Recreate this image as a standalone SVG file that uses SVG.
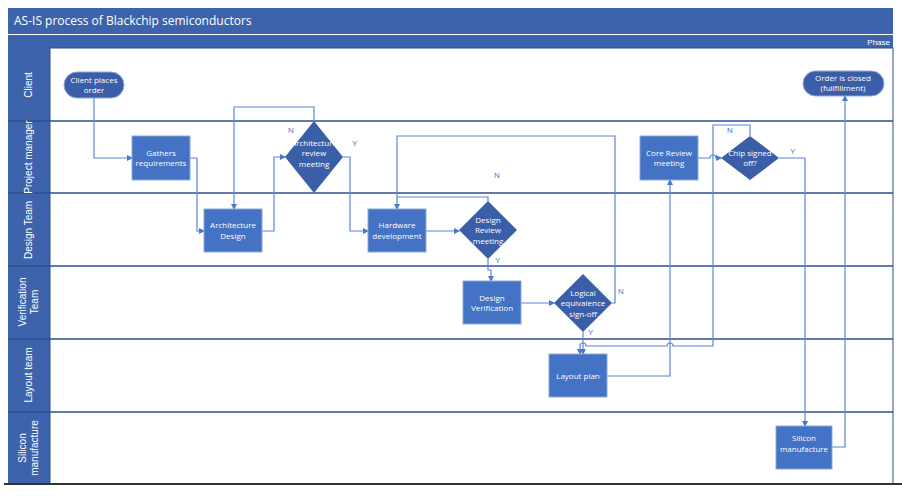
<svg xmlns="http://www.w3.org/2000/svg" width="902" height="496" viewBox="0 0 902 496">
<style>
.hdr{fill:#3e63ad}
.lane{fill:#3e63ad}
.sep{stroke:#2f4f8f;stroke-width:1.5}
.lt{font-family:"Liberation Sans",Arial,sans-serif;font-size:10px;fill:#fff}
.nt{font-family:"Open Sans","Liberation Sans",sans-serif;font-size:8px;fill:#fff;text-anchor:middle}
.box{fill:#4472c4;stroke:#8eaadb;stroke-width:1}
.dia{fill:#3a5ea8}
.term{fill:#3a5ea8;stroke:#8eaadb;stroke-width:1}
.c{fill:none;stroke:#5b86d6;stroke-width:1.2}
.lbl{font-family:"Liberation Sans",Arial,sans-serif;font-size:8px;fill:#4a78cc}
</style>
<defs>
<marker id="a" markerWidth="6" markerHeight="6" refX="5" refY="3" orient="auto" markerUnits="userSpaceOnUse"><path d="M0,0 L6,3 L0,6 z" fill="#4a78cc"/></marker>
</defs>
<rect x="0" y="0" width="902" height="496" fill="#fff"/>
<g id="frame">
<rect x="8" y="8" width="885" height="26" class="hdr"/>
<text x="14" y="25" font-family="Open Sans,Liberation Sans,sans-serif" font-size="12" fill="#fff">AS-IS process of Blackchip semiconductors</text>
<rect x="8" y="35" width="885" height="13" class="hdr"/>
<text x="890" y="45" font-family="Liberation Sans,sans-serif" font-size="8" fill="#fff" text-anchor="end">Phase</text>
<rect x="8" y="48" width="42" height="436" class="lane"/>
<rect x="50" y="48" width="843" height="436" fill="none" stroke="#2f4f8f" stroke-width="1"/>
<line x1="8" y1="121" x2="893" y2="121" class="sep"/>
<line x1="8" y1="193" x2="893" y2="193" class="sep"/>
<line x1="8" y1="266" x2="893" y2="266" class="sep"/>
<line x1="8" y1="339" x2="893" y2="339" class="sep"/>
<line x1="8" y1="412" x2="893" y2="412" class="sep"/>
<line x1="4" y1="484" x2="902" y2="484" stroke="#333" stroke-width="2"/>
<text class="lt" transform="translate(28,85) rotate(-90)" text-anchor="middle" y="4">Client</text>
<text class="lt" transform="translate(28,157) rotate(-90)" text-anchor="middle" y="4">Project manager</text>
<text class="lt" transform="translate(28,230) rotate(-90)" text-anchor="middle" y="4">Design Team</text>
<text class="lt" transform="translate(28,302) rotate(-90)" text-anchor="middle"><tspan x="0" y="-2">Verification</tspan><tspan x="0" y="10">Team</tspan></text>
<text class="lt" transform="translate(28,375) rotate(-90)" text-anchor="middle" y="4">Layout team</text>
<text class="lt" transform="translate(28,448) rotate(-90)" text-anchor="middle"><tspan x="0" y="-2">Silicon</tspan><tspan x="0" y="10">manufacture</tspan></text>
</g>
<g id="connectors">
<path class="c" d="M94,98 V158 H132" marker-end="url(#a)"/>
<path class="c" d="M190,158 H197 V231 H204" marker-end="url(#a)"/>
<path class="c" d="M262,231 H274 V157 H285" marker-end="url(#a)"/>
<path class="c" d="M314,121 V107 H234 V209" marker-end="url(#a)"/>
<path class="c" d="M343,157 H350 V231 H368" marker-end="url(#a)"/>
<path class="c" d="M426,231 H459" marker-end="url(#a)"/>
<path class="c" d="M488,201 V197 H397"/>
<path class="c" d="M612,303 H615 V136 H397 V209" marker-end="url(#a)"/>
<path class="c" d="M488,259 V270 H491 V281" marker-end="url(#a)"/>
<path class="c" d="M521,303 H554" marker-end="url(#a)"/>
<path class="c" d="M583,332 V354" marker-end="url(#a)"/>
<path class="c" d="M750,136 V125 H713 V346 H673 A3,3 0 0 0 667,346 H586 A3,3 0 0 0 580,346 V354" marker-end="url(#a)"/>
<path class="c" d="M607,376 H670 V180" marker-end="url(#a)"/>
<path class="c" d="M698,158 H710 A3,3 0 0 1 716,158 H721" marker-end="url(#a)"/>
<path class="c" d="M779,158 H805 V426" marker-end="url(#a)"/>
<path class="c" d="M832,447 H845 V96" marker-end="url(#a)"/>
<text class="lbl" x="288" y="133">N</text>
<text class="lbl" x="352" y="146">Y</text>
<text class="lbl" x="494" y="178">N</text>
<text class="lbl" x="495" y="263">Y</text>
<text class="lbl" x="618" y="294">N</text>
<text class="lbl" x="588" y="335">Y</text>
<text class="lbl" x="727" y="133">N</text>
<text class="lbl" x="790" y="154">Y</text>
</g>
<g id="client-places-order"><rect class="term" x="64" y="72" width="60" height="26" rx="13"/><text class="nt" x="94" y="83">Client places</text><text class="nt" x="94" y="93">order</text></g>
<g id="gathers"><rect class="box" x="132" y="136" width="58" height="44"/><text class="nt" x="161" y="156">Gathers</text><text class="nt" x="161" y="166">requirements</text></g>
<g id="arch-design"><rect class="box" x="204" y="209" width="58" height="43"/><text class="nt" x="233" y="228">Architecture</text><text class="nt" x="233" y="239">Design</text></g>
<g id="arch-review"><polygon class="dia" points="314,121 343,157 314,193 285,157"/><text class="nt" x="314" y="146">Architecture</text><text class="nt" x="314" y="156">review</text><text class="nt" x="314" y="167">meeting</text></g>
<g id="hardware"><rect class="box" x="368" y="209" width="58" height="43"/><text class="nt" x="397" y="228">Hardware</text><text class="nt" x="397" y="239">development</text></g>
<g id="design-review"><polygon class="dia" points="488,201 517,230 488,259 459,230"/><text class="nt" x="488" y="223">Design</text><text class="nt" x="488" y="233">Review</text><text class="nt" x="488" y="244">meeting</text></g>
<g id="design-verification"><rect class="box" x="463" y="281" width="58" height="43"/><text class="nt" x="492" y="301">Design</text><text class="nt" x="492" y="311">Verification</text></g>
<g id="logical"><polygon class="dia" points="583,274 612,303 583,332 554,303"/><text class="nt" x="583" y="296">Logical</text><text class="nt" x="583" y="306">equivalence</text><text class="nt" x="583" y="317">sign-off</text></g>
<g id="layout-plan"><rect class="box" x="549" y="354" width="58" height="43"/><text class="nt" x="578" y="379">Layout plan</text></g>
<g id="core-review"><rect class="box" x="640" y="136" width="58" height="44"/><text class="nt" x="669" y="156">Core Review</text><text class="nt" x="669" y="166">meeting</text></g>
<g id="chip-signed"><polygon class="dia" points="750,136 779,158 750,180 721,158"/><text class="nt" x="750" y="156">Chip signed</text><text class="nt" x="750" y="166">off?</text></g>
<g id="order-closed"><rect class="term" x="803" y="71" width="81" height="25" rx="12.5"/><text class="nt" x="843" y="81">Order is closed</text><text class="nt" x="843" y="91">(fullfillment)</text></g>
<g id="silicon"><rect class="box" x="776" y="426" width="56" height="43"/><text class="nt" x="804" y="441">Silicon</text><text class="nt" x="804" y="452">manufacture</text></g>
</svg>
